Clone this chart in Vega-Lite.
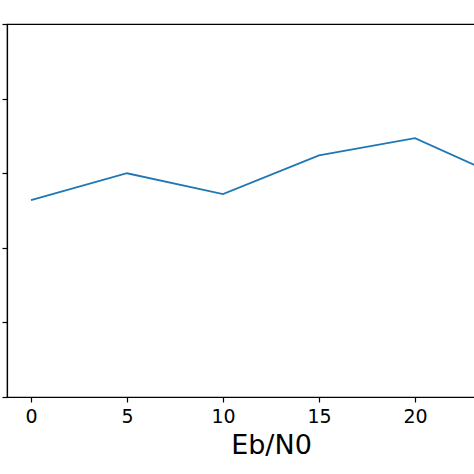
{
  "$schema": "https://vega.github.io/schema/vega-lite/v6.json",
  "autosize": {"type": "none"},
  "padding": {"left": 7, "top": 24, "right": 0, "bottom": 77},
  "width": 528,
  "height": 373,
  "background": "white",
  "config": {
    "font": "DejaVu Sans",
    "view": {"stroke": "black", "strokeWidth": 1.2},
    "axis": {"grid": false, "domainColor": "black", "tickColor": "black", "labelColor": "black", "titleColor": "black", "domainWidth": 1.2, "tickWidth": 1.2, "tickSize": 5}
  },
  "data": {
    "values": [
      {"EbN0": 0, "value": 2.64},
      {"EbN0": 5, "value": 3.0},
      {"EbN0": 10, "value": 2.72},
      {"EbN0": 15, "value": 3.24},
      {"EbN0": 20, "value": 3.47},
      {"EbN0": 25, "value": 2.89}
    ]
  },
  "mark": {"type": "line", "color": "#1f77b4", "strokeWidth": 1.9, "clip": true},
  "encoding": {
    "x": {
      "field": "EbN0", "type": "quantitative",
      "scale": {"domain": [-1.25, 26.25], "nice": false, "zero": false},
      "axis": {"values": [0, 5, 10, 15, 20], "title": "Eb/N0", "labelFontSize": 19, "labelPadding": 5, "titleFontSize": 27, "titleFontWeight": "normal", "titlePadding": 6, "labelFlush": false}
    },
    "y": {
      "field": "value", "type": "quantitative",
      "scale": {"domain": [0, 5], "nice": false},
      "axis": {"values": [0, 1, 2, 3, 4, 5], "labels": false, "title": null}
    }
  }
}
